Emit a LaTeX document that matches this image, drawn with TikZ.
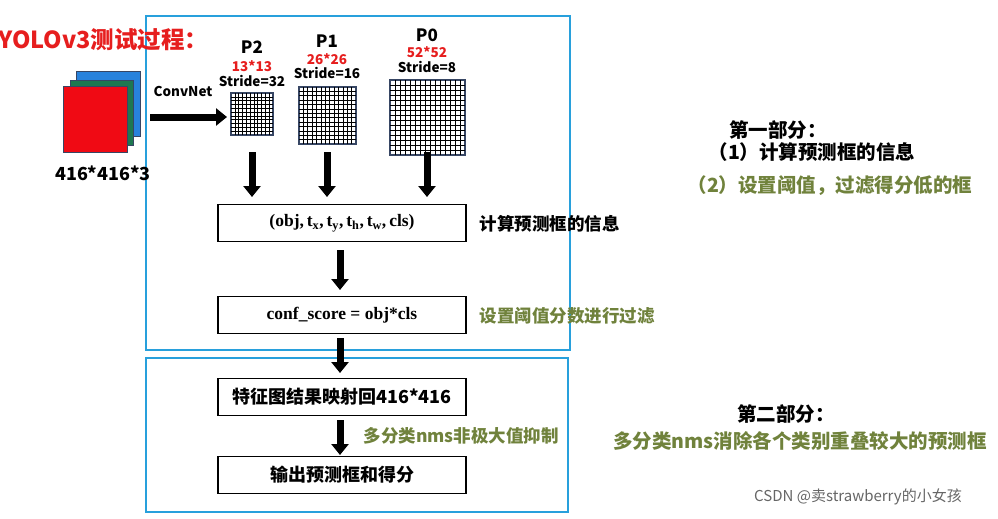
\documentclass[tikz,border=0pt]{standalone}
\usepackage{fontspec}
\setmainfont{Noto Sans CJK SC}
\newfontfamily\serifb{Liberation Serif}
\usetikzlibrary{arrows.meta}
\definecolor{tred}{RGB}{230,30,30}
\definecolor{olive}{RGB}{112,130,60}
\definecolor{bbox}{RGB}{40,160,220}
\definecolor{gridc}{RGB}{55,70,100}
\begin{document}
\begin{tikzpicture}[x=1pt,y=-1pt,
  t/.style={font=\bfseries\fontsize{17.5}{18}\selectfont},
  ts/.style={font=\bfseries\fontsize{13.5}{14}\selectfont},
  rt/.style={ts,text=tred},
  blk/.style={draw=black,line width=1.2pt,minimum width=248pt,minimum height=37pt,font=\bfseries\fontsize{18}{19}\selectfont},
  big/.style={line width=7pt,-{Triangle[width=17pt,length=11pt]}},
  ol/.style={t,text=olive},
  rr/.style={font=\bfseries\fontsize{19.5}{20}\selectfont}]
\useasboundingbox (0,0) rectangle (998,519);
\draw[bbox,line width=1.5pt] (146,16) rectangle (570,350);
\draw[bbox,line width=1.5pt] (146,358) rectangle (568,512);
\node[anchor=west,text=tred,font=\bfseries\fontsize{23.5}{24}\selectfont] (title) at (-5,40) {YOLOv3测试过程：};
\draw[gridc,line width=1pt,fill={rgb,255:red,40;green,130;blue,220}] (76,71) rectangle (140,136);
\draw[gridc,line width=1pt,fill={rgb,255:red,30;green,120;blue,80}] (70,80) rectangle (133,145);
\draw[gridc,line width=1pt,fill={rgb,255:red,240;green,10;blue,20}] (63,86) rectangle (127,152);
\node[font=\bfseries\fontsize{18}{19}\selectfont] (in) at (103,173) {416*416*3};
\node[ts] (cn) at (183,91) {ConvNet};
\coordinate (a0) at (150,117);
\coordinate (a1) at (227,117);
\draw[big] (a0) -- (a1);
\foreach \x/\y/\s/\n in {231/93/42/11, 299/87/57/13, 390/80/75/15}{
  \draw[gridc,line width=1.5pt,fill=white] (\x,\y) rectangle ++(\s,\s);
  \pgfmathsetmacro\st{\s/\n}
  \foreach \i in {1,...,\numexpr\n-1\relax}{
    \draw[black,line width=0.6pt] (\x+\i*\st,\y) -- ++(0,\s);
    \draw[black,line width=0.6pt] (\x,\y+\i*\st) -- ++(\s,0);
  }
}
\node[rr,font=\bfseries\fontsize{17}{18}\selectfont] (p2) at (252,47) {P2};
\node[rt] (p2s) at (252,66) {13*13};
\node[ts] (p2t) at (252,81) {Stride=32};
\node[rr,font=\bfseries\fontsize{17}{18}\selectfont] (p1) at (327,41) {P1};
\node[rt] (p1s) at (327,59) {26*26};
\node[ts] (p1t) at (327,73) {Stride=16};
\node[rr,font=\bfseries\fontsize{17}{18}\selectfont] (p0) at (427,35) {P0};
\node[rt] (p0s) at (427,52) {52*52};
\node[ts] (p0t) at (427,67) {Stride=8};
\foreach \x in {252,327,427}{\draw[big] (\x,152) -- (\x,197);}
\node[blk,font=\serifb\bfseries\fontsize{17.5}{18}\selectfont] (b1) at (342,223) {(obj,\,t\textsubscript{x},\,t\textsubscript{y},\,t\textsubscript{h},\,t\textsubscript{w},\,cls)};
\node[t,anchor=west] (l1) at (476,224) {计算预测框的信息};
\node[blk,font=\serifb\bfseries\fontsize{17.5}{18}\selectfont] (b2) at (342,315) {conf\_score = obj*cls};
\node[ol,anchor=west] (l2) at (476,316) {设置阈值分数进行过滤};
\node[blk] (b3) at (342,397) {特征图结果映射回416*416};
\node[blk] (b4) at (342,475) {输出预测框和得分};
\node[ol,anchor=west] (l3) at (360,436) {多分类nms非极大值抑制};
\draw[big] (340,250) -- (340,290);
\draw[big] (340,338) -- (340,373);
\draw[big] (340,420) -- (340,455);
\node[rr] (r1) at (778,130) {第一部分：};
\node[rr] (r2) at (812,152) {（1）计算预测框的信息};
\node[rr,text=olive] (r3) at (830,186) {（2）设置阈值，过滤得分低的框};
\node[rr] (r4) at (786,414) {第二部分：};
\node[rr,text=olive] (r5) at (800,441) {多分类nms消除各个类别重叠较大的预测框};
\node[text=gray!80!black,font=\fontsize{15}{16}\selectfont] (wm) at (858,497) {CSDN @卖strawberry的小女孩};
\end{tikzpicture}
\end{document}
